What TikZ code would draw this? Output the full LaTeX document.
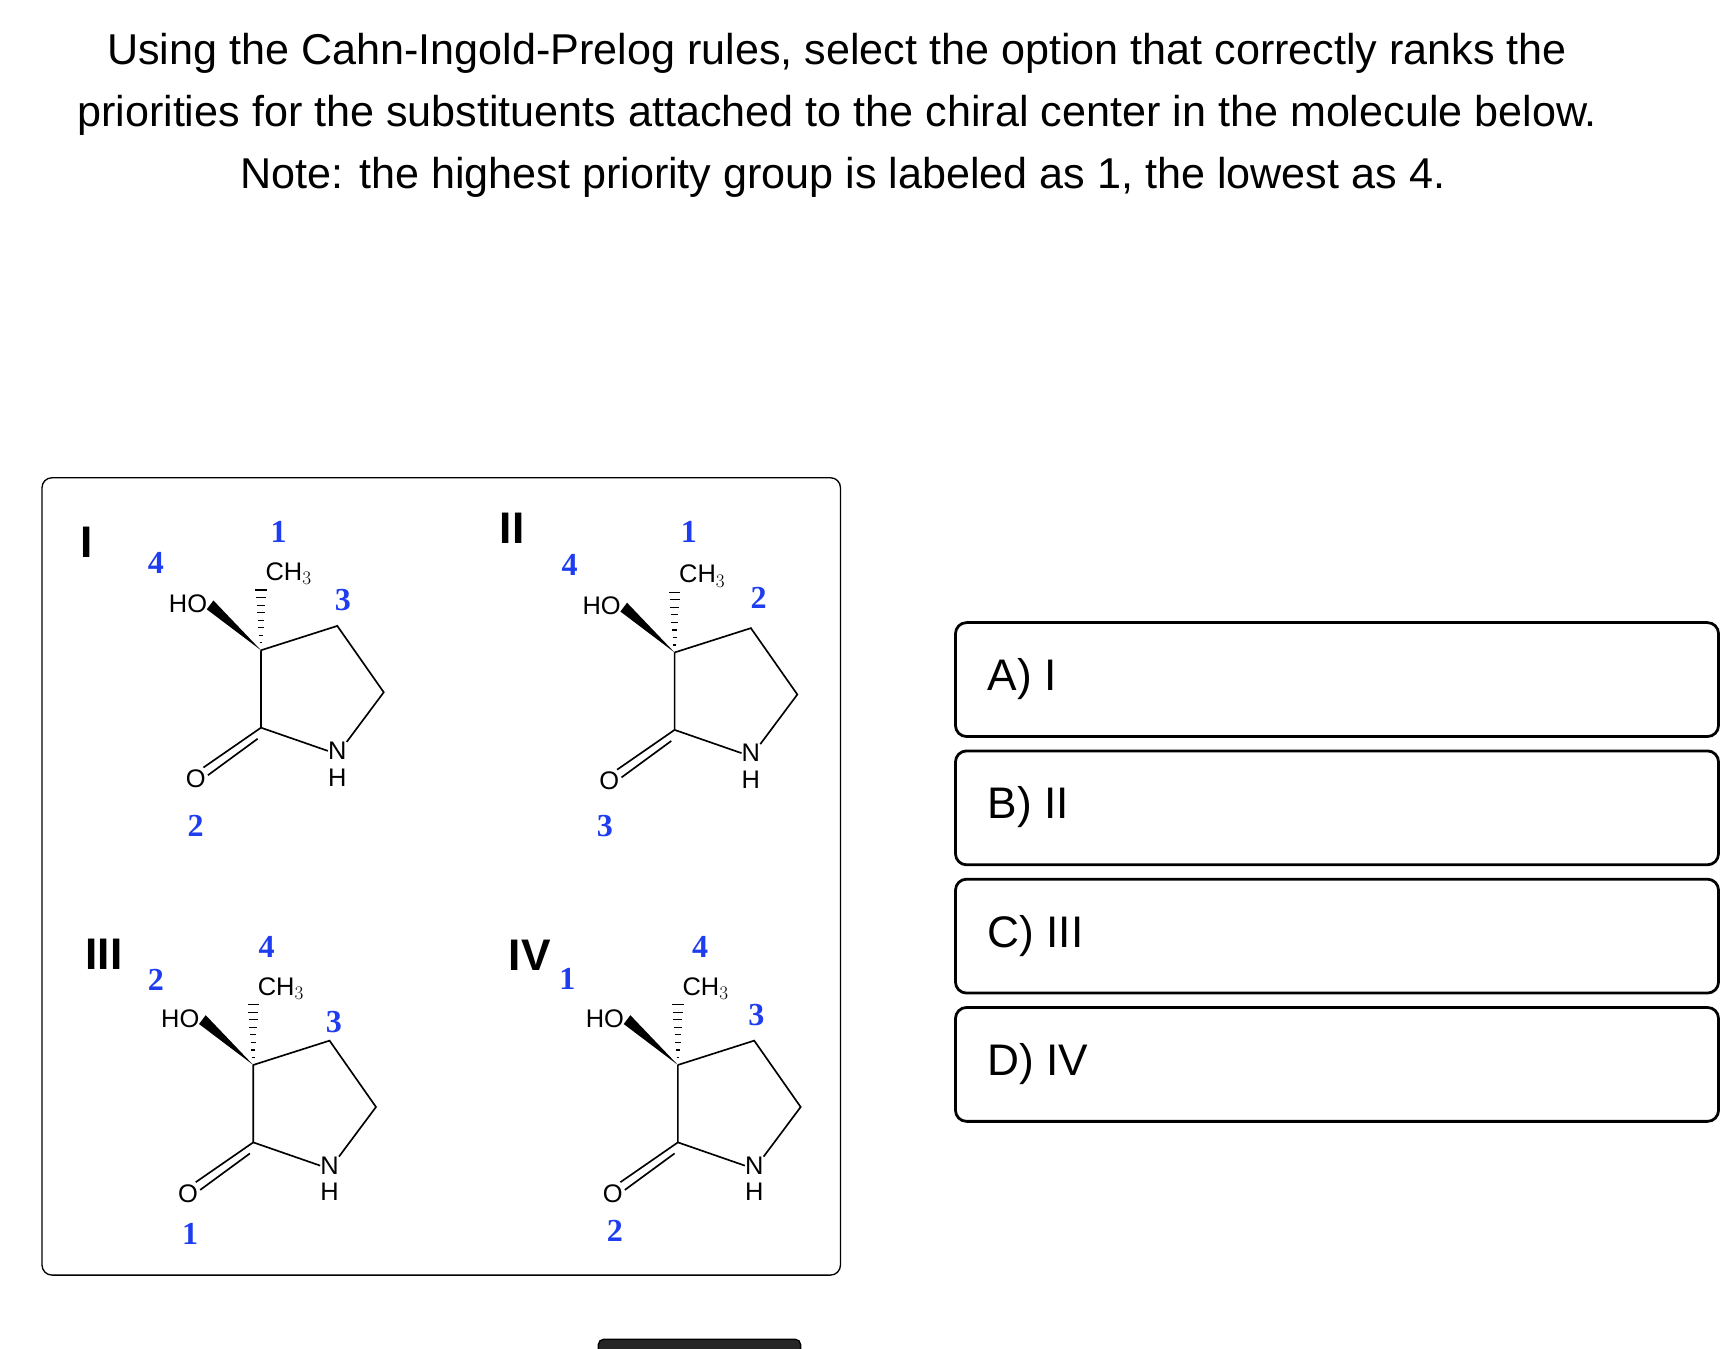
\documentclass[tikz,border=0pt]{standalone}
\usepackage{fontspec}
\setmainfont{Liberation Sans}
\newfontfamily\lblfont{Liberation Serif}
\definecolor{lblblue}{RGB}{30,60,240}
\tikzset{
 lbl/.style={text=lblblue,font=\lblfont\fontsize{29}{30}\selectfont\bfseries,inner sep=0pt},
 atom/.style={font=\fontsize{23}{24}\selectfont,inner sep=0pt},
 roman/.style={font=\fontsize{40}{42}\selectfont\bfseries,inner sep=0pt},
 bond/.style={line width=1.5pt},
 ansbox/.style={draw,line width=2.5pt,rounded corners=10pt},
 anstext/.style={font=\fontsize{40}{42}\selectfont,anchor=west,inner sep=0pt},
 title/.style={font=\fontsize{39}{44}\selectfont,inner sep=0pt}
}
\newcommand{\molecule}[3]{%
\begin{scope}[shift={(#1,#2)}]
 \coordinate (#3c) at (0,0);
 \coordinate (#3r1) at (69,-22);
 \coordinate (#3r2) at (111,38);
 \coordinate (#3c2) at (0,70);
 \node[atom] (#3n) at (69,91) {N};
 \node[atom] (#3h) at (69,115) {H};
 \node[atom] (#3me) at (25,-69) {CH$_3$};
 \node[atom] (#3ho) at (-66,-42) {HO};
 \node[atom] (#3o) at (-59,116) {O};
 \draw[bond] (#3c) -- (#3r1) -- (#3r2) -- (#3n.north east);
 \draw[bond] (#3c) -- (#3c2) -- (#3n.west);
 \draw[bond] (#3c2) -- (-52,106);
 \draw[bond] (-3,80) -- (-48,113);
 \fill (#3c) -- (-49,-37) -- (-43,-45) -- cycle;
 \foreach \k in {1,...,8}{
   \pgfmathsetmacro{\yy}{-6.8*\k}
   \pgfmathsetmacro{\ww}{0.7+0.55*\k}
   \draw[line width=1.1pt] (-\ww,\yy) -- (\ww,\yy);
 }
\end{scope}}
\begin{document}
\begin{tikzpicture}[x=1pt,y=-1pt]
\useasboundingbox (0,0) rectangle (1568,1219);
\node[title] (t1) at (757,48) {Using the Cahn-Ingold-Prelog rules, select the option that correctly ranks the};
\node[title] (t2) at (757,104) {priorities for the substituents attached to the chiral center in the molecule below.};
\node[title] (t3) at (762,160) {Note: the highest priority group is labeled as 1, the lowest as 4.};
\draw[line width=1.2pt,rounded corners=9pt] (38,432) rectangle (760,1153);
% molecules
\molecule{236}{588}{a}
\molecule{610}{590}{b}
\molecule{229}{963}{c}
\molecule{613}{963}{d}
% roman numerals
\node[roman] (ri) at (78,490) {I};
\node[roman] (rii) at (463,478) {II};
\node[roman] (riii) at (94,863) {III};
\node[roman] (riv) at (479,864) {IV};
% labels
\node[lbl] at (252,481) {1};
\node[lbl] at (141,509) {4};
\node[lbl] at (310,543) {3};
\node[lbl] at (177,747) {2};
\node[lbl] at (623,481) {1};
\node[lbl] at (515,511) {4};
\node[lbl] at (686,541) {2};
\node[lbl] at (547,747) {3};
\node[lbl] at (241,856) {4};
\node[lbl] at (141,886) {2};
\node[lbl] at (302,924) {3};
\node[lbl] at (172,1116) {1};
\node[lbl] at (633,856) {4};
\node[lbl] at (513,885) {1};
\node[lbl] at (684,918) {3};
\node[lbl] at (556,1113) {2};
% answers
\draw[ansbox] (864,563) rectangle (1554,666);
\draw[ansbox] (864,679) rectangle (1554,782);
\draw[ansbox] (864,795) rectangle (1554,898);
\draw[ansbox] (864,911) rectangle (1554,1014);
\node[anstext] (aa) at (893,614) {A) I};
\node[anstext] (ab) at (893,730) {B) II};
\node[anstext] (ac) at (893,846) {C) III};
\node[anstext] (ad) at (893,962) {D) IV};
% bottom button
\fill[black!85,rounded corners=5pt] (541,1211) rectangle (724,1240);
\draw[line width=1.2pt,rounded corners=5pt] (541,1240) -- (541,1211) -- (724,1211) -- (724,1240);
\end{tikzpicture}
\end{document}
